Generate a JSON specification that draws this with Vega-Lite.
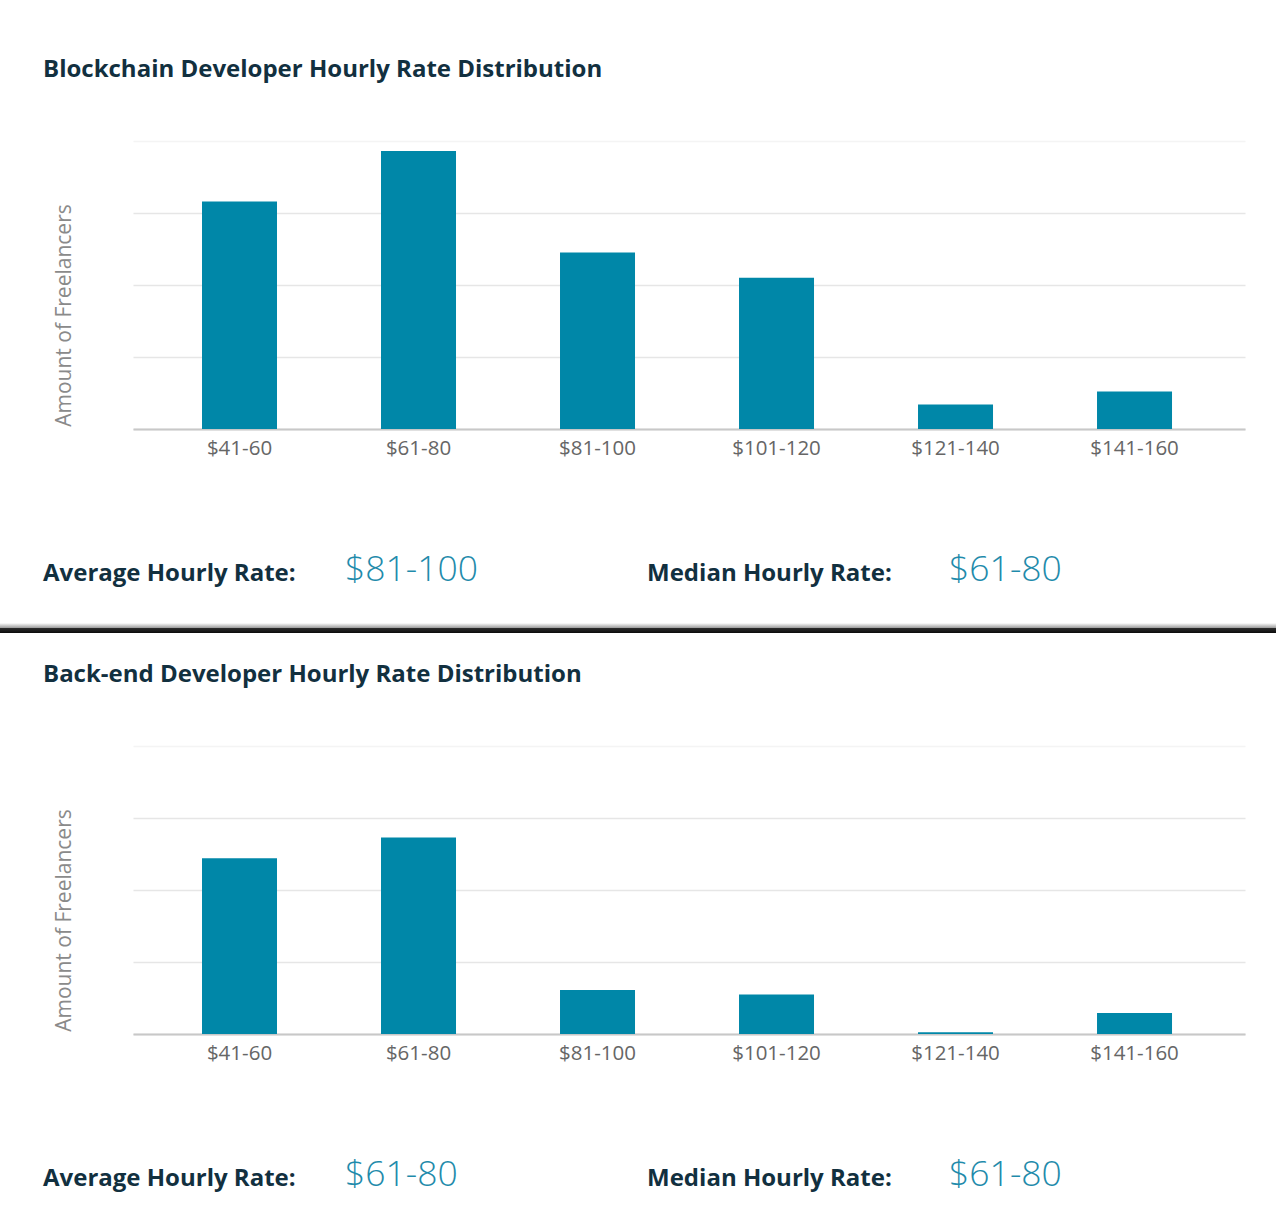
{
  "$schema": "https://vega.github.io/schema/vega-lite/v6.json",
  "description": "Hourly rate distribution of blockchain and back-end developers, with average and median rate.",
  "background": "#ffffff",
  "padding": {"top": 58, "left": 0, "right": 0, "bottom": 0},
  "config": {
    "view": {"stroke": null},
    "font": "Open Sans"
  },
  "datasets": {
    "rates": [
      {"panel": "Blockchain", "rate": "$41-60", "freelancers": 31.6},
      {"panel": "Blockchain", "rate": "$61-80", "freelancers": 38.6},
      {"panel": "Blockchain", "rate": "$81-100", "freelancers": 24.5},
      {"panel": "Blockchain", "rate": "$101-120", "freelancers": 21.0},
      {"panel": "Blockchain", "rate": "$121-140", "freelancers": 3.4},
      {"panel": "Blockchain", "rate": "$141-160", "freelancers": 5.2},
      {"panel": "Back-end", "rate": "$41-60", "freelancers": 24.4},
      {"panel": "Back-end", "rate": "$61-80", "freelancers": 27.3},
      {"panel": "Back-end", "rate": "$81-100", "freelancers": 6.1},
      {"panel": "Back-end", "rate": "$101-120", "freelancers": 5.5},
      {"panel": "Back-end", "rate": "$121-140", "freelancers": 0.25},
      {"panel": "Back-end", "rate": "$141-160", "freelancers": 2.9}
    ],
    "stats": [
      {"panel": "Blockchain", "slot": "avg-label", "kind": "label", "text": "Average Hourly Rate:"},
      {"panel": "Blockchain", "slot": "avg-value", "kind": "value", "text": "$81-100"},
      {"panel": "Blockchain", "slot": "med-label", "kind": "label", "text": "Median Hourly Rate:"},
      {"panel": "Blockchain", "slot": "med-value", "kind": "value", "text": "$61-80"},
      {"panel": "Back-end", "slot": "avg-label", "kind": "label", "text": "Average Hourly Rate:"},
      {"panel": "Back-end", "slot": "avg-value", "kind": "value", "text": "$61-80"},
      {"panel": "Back-end", "slot": "med-label", "kind": "label", "text": "Median Hourly Rate:"},
      {"panel": "Back-end", "slot": "med-value", "kind": "value", "text": "$61-80"}
    ]
  },
  "spacing": 30,
  "vconcat": [
    {
      "spacing": 42,
      "hconcat": [
        {"width": 1, "height": 1, "data": {"values": []}, "mark": "point"},
        {
          "width": 1112,
          "height": 288,
          "title": {
            "text": "Blockchain Developer Hourly Rate Distribution",
            "anchor": "start", "frame": "group", "dx": -90, "offset": 59,
            "font": "Open Sans", "fontSize": 24, "fontWeight": 700, "color": "#12303f"
          },
          "data": {"name": "rates"},
          "transform": [{"filter": "datum.panel == 'Blockchain'"}],
          "mark": {"type": "bar", "color": "#0087a8"},
          "encoding": {
            "x": {
              "field": "rate", "type": "nominal", "sort": null,
              "scale": {"paddingInner": 0.581, "paddingOuter": 0.3966, "align": 0.486},
              "axis": {
                "title": null, "labelAngle": 0, "ticks": false, "tickSize": 0, "labelPadding": 9,
                "labelFont": "Open Sans", "labelFontSize": 20.5, "labelColor": "#666666",
                "domainColor": "#c8c8c8", "domainWidth": 2
              }
            },
            "y": {
              "field": "freelancers", "type": "quantitative",
              "scale": {"domain": [0, 40], "nice": false},
              "axis": {
                "title": "Amount of Freelancers", "values": [0, 10, 20, 30, 40],
                "labels": false, "ticks": false, "domain": false, "minExtent": 0,
                "gridColor": {"condition": {"test": "datum.value == 40", "value": "#f4f4f4"}, "value": "#e6e6e6"},
                "gridWidth": 1.5,
                "titleFont": "Open Sans", "titleFontSize": 21, "titleFontWeight": "normal",
                "titleColor": "#8a8a8a", "titlePadding": 59, "titleY": 174
              }
            }
          }
        }
      ]
    },
    {
      "spacing": 42,
      "hconcat": [
        {"width": 1, "height": 1, "data": {"values": []}, "mark": "point"},
        {
          "width": 1190,
          "height": 104,
          "data": {"name": "stats"},
          "transform": [{"filter": "datum.panel == 'Blockchain'"}],
          "encoding": {
            "x": {
              "field": "slot", "type": "nominal",
              "scale": {"type": "point", "domain": ["avg-label", "avg-value", "med-label", "med-value"], "padding": 0.47, "align": 0},
              "axis": null
            },
            "y": {"field": "panel", "type": "nominal", "scale": {"type": "point", "padding": 0, "align": 0.889}, "axis": null},
            "text": {"field": "text"}
          },
          "layer": [
            {
              "transform": [{"filter": "datum.kind == 'label'"}],
              "mark": {"type": "text", "align": "left", "baseline": "alphabetic", "font": "Open Sans", "fontSize": 24, "fontWeight": 700, "color": "#12303f"}
            },
            {
              "transform": [{"filter": "datum.kind == 'value'"}],
              "mark": {"type": "text", "align": "left", "baseline": "alphabetic", "font": "Open Sans", "fontSize": 35.5, "fontWeight": 300, "color": "#1f8bab"}
            }
          ]
        }
      ]
    },
    {
      "width": 1276,
      "height": 10,
      "data": {"values": [{"part": "separator"}]},
      "mark": {
        "type": "rect",
        "fill": {
          "gradient": "linear", "x1": 0, "y1": 0, "x2": 0, "y2": 1,
          "stops": [
            {"offset": 0, "color": "#ffffff"},
            {"offset": 0.5, "color": "#9a9a9a"},
            {"offset": 0.55, "color": "#2a2a2a"},
            {"offset": 1, "color": "#0a0a0a"}
          ]
        }
      },
      "encoding": {
        "x": {"datum": 0, "type": "quantitative", "scale": {"domain": [0, 1]}, "axis": null},
        "x2": {"datum": 1},
        "y": {"datum": 0, "type": "quantitative", "scale": {"domain": [0, 1]}, "axis": null},
        "y2": {"datum": 1}
      }
    },
    {
      "spacing": 42,
      "hconcat": [
        {"width": 1, "height": 1, "data": {"values": []}, "mark": "point"},
        {
          "width": 1112,
          "height": 288,
          "title": {
            "text": "Back-end Developer Hourly Rate Distribution",
            "anchor": "start", "frame": "group", "dx": -90, "offset": 59,
            "font": "Open Sans", "fontSize": 24, "fontWeight": 700, "color": "#12303f"
          },
          "data": {"name": "rates"},
          "transform": [{"filter": "datum.panel == 'Back-end'"}],
          "mark": {"type": "bar", "color": "#0087a8"},
          "encoding": {
            "x": {
              "field": "rate", "type": "nominal", "sort": null,
              "scale": {"paddingInner": 0.581, "paddingOuter": 0.3966, "align": 0.486},
              "axis": {
                "title": null, "labelAngle": 0, "ticks": false, "tickSize": 0, "labelPadding": 9,
                "labelFont": "Open Sans", "labelFontSize": 20.5, "labelColor": "#666666",
                "domainColor": "#c8c8c8", "domainWidth": 2
              }
            },
            "y": {
              "field": "freelancers", "type": "quantitative",
              "scale": {"domain": [0, 40], "nice": false},
              "axis": {
                "title": "Amount of Freelancers", "values": [0, 10, 20, 30, 40],
                "labels": false, "ticks": false, "domain": false, "minExtent": 0,
                "gridColor": {"condition": {"test": "datum.value == 40", "value": "#f4f4f4"}, "value": "#e6e6e6"},
                "gridWidth": 1.5,
                "titleFont": "Open Sans", "titleFontSize": 21, "titleFontWeight": "normal",
                "titleColor": "#8a8a8a", "titlePadding": 59, "titleY": 174
              }
            }
          }
        }
      ]
    },
    {
      "spacing": 42,
      "hconcat": [
        {"width": 1, "height": 1, "data": {"values": []}, "mark": "point"},
        {
          "width": 1190,
          "height": 104,
          "data": {"name": "stats"},
          "transform": [{"filter": "datum.panel == 'Back-end'"}],
          "encoding": {
            "x": {
              "field": "slot", "type": "nominal",
              "scale": {"type": "point", "domain": ["avg-label", "avg-value", "med-label", "med-value"], "padding": 0.47, "align": 0},
              "axis": null
            },
            "y": {"field": "panel", "type": "nominal", "scale": {"type": "point", "padding": 0, "align": 0.889}, "axis": null},
            "text": {"field": "text"}
          },
          "layer": [
            {
              "transform": [{"filter": "datum.kind == 'label'"}],
              "mark": {"type": "text", "align": "left", "baseline": "alphabetic", "font": "Open Sans", "fontSize": 24, "fontWeight": 700, "color": "#12303f"}
            },
            {
              "transform": [{"filter": "datum.kind == 'value'"}],
              "mark": {"type": "text", "align": "left", "baseline": "alphabetic", "font": "Open Sans", "fontSize": 35.5, "fontWeight": 300, "color": "#1f8bab"}
            }
          ]
        }
      ]
    }
  ]
}
